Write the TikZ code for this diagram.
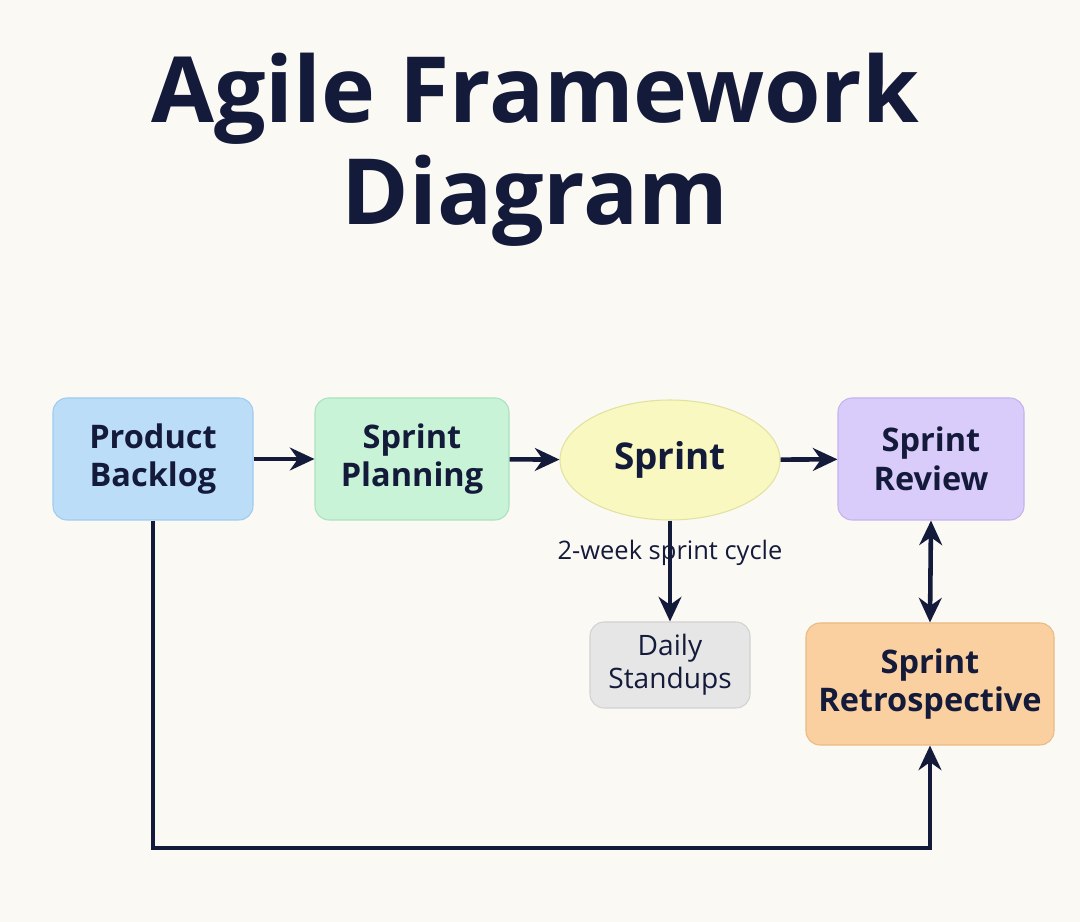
\documentclass[tikz,border=0pt]{standalone}
\usepackage{fontspec}
\setmainfont{Open Sans}
\usetikzlibrary{arrows.meta,shapes.geometric}
\definecolor{bg}{HTML}{FBF9F3}
\definecolor{ink}{HTML}{141A3A}
\tikzset{
 box/.style={rounded corners=8pt,minimum width=#1,align=center,font=\fontsize{18.5}{22}\selectfont\bfseries,text=ink,line width=0.6pt},
 arr/.style={line width=2.6pt,draw=ink,-{Stealth[length=14pt,width=13pt]}},
}
\begin{document}
\begin{tikzpicture}[x=0.02cm,y=-0.02cm]
\fill[bg] (0,0) rectangle (1080,922);
\useasboundingbox (0,0) rectangle (1080,922);
\node[text=ink,font=\fontsize{52}{58}\selectfont\bfseries,align=center] (title) at (535,150) {Agile Framework\\Diagram};
\node[box=200*0.02cm,minimum height=122*0.02cm,fill={rgb,255:red,187;green,221;blue,248},draw={rgb,255:red,158;green,203;blue,240}] (pb) at (153,459) {Product\\Backlog};
\node[box=194*0.02cm,minimum height=122*0.02cm,fill={rgb,255:red,201;green,243;blue,215},draw={rgb,255:red,170;green,225;blue,190}] (sp) at (412,459) {Sprint\\Planning};
\node[ellipse,minimum width=220*0.02cm,minimum height=120*0.02cm,fill={rgb,255:red,248;green,248;blue,192},draw={rgb,255:red,225;green,225;blue,160},line width=0.6pt,text=ink,font=\fontsize{21}{25}\selectfont\bfseries] (s) at (670,460) {Sprint};
\node[box=186*0.02cm,minimum height=122*0.02cm,fill={rgb,255:red,217;green,203;blue,250},draw={rgb,255:red,195;green,180;blue,240}] (sr) at (931,459) {Sprint\\Review};
\node[box=160*0.02cm,minimum height=86*0.02cm,fill={rgb,255:red,230;green,230;blue,230},draw={rgb,255:red,210;green,210;blue,210},font=\fontsize{16}{19}\selectfont] (ds) at (670,665) {Daily\\Standups};
\node[box=248*0.02cm,minimum height=122*0.02cm,fill={rgb,255:red,250;green,208;blue,160},draw={rgb,255:red,235;green,185;blue,130}] (rt) at (930,684) {Sprint\\Retrospective};
\draw[arr] (pb) -- (sp);
\draw[arr] (sp) -- (s);
\draw[arr] (s) -- (sr);
\draw[arr] (s.south) -- (ds.north);
\node[text=ink,font=\fontsize{14.5}{17}\selectfont,inner sep=1pt] (lab) at (670,553) {2-week sprint cycle};
\draw[arr,{Stealth[length=14pt,width=13pt]}-{Stealth[length=14pt,width=13pt]}] (sr.south) -- (rt.north);
\coordinate (c1) at (153,848);
\coordinate (c2) at (930,848);
\draw[arr] (pb.south) -- (c1) -- (c2) -- (rt.south);
\end{tikzpicture}
\end{document}
